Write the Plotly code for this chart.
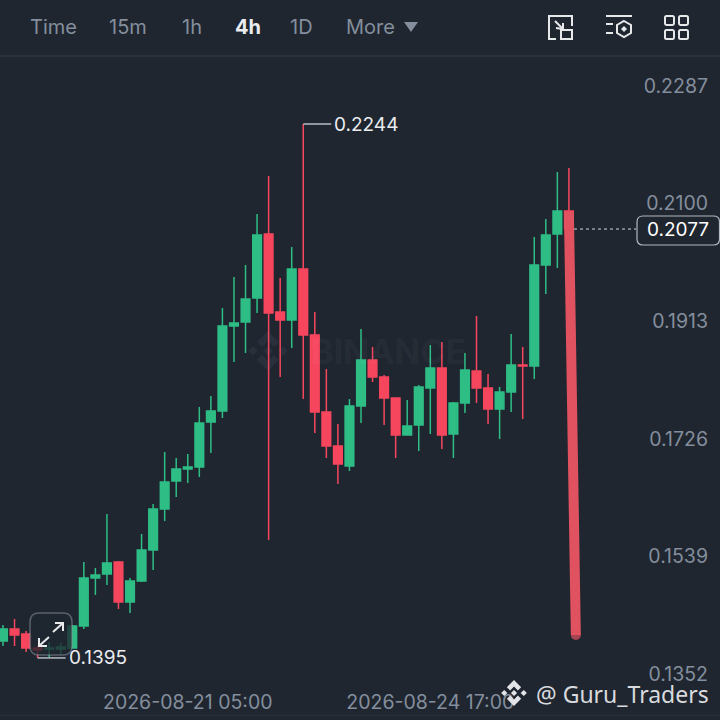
import pandas as pd
import plotly.graph_objects as go

# 4h candles
opens = [0.14219, 0.14410, 0.14331, 0.14108, 0.14092, 0.14092, 0.14108, 0.14458, 0.15221, 0.15285,
         0.15475, 0.14839, 0.15173, 0.15666, 0.16318, 0.16763, 0.16954, 0.16986, 0.17701, 0.17876,
         0.19228, 0.19292, 0.19673, 0.20691, 0.19451, 0.19324, 0.20134, 0.19085, 0.17861, 0.17320,
         0.17002, 0.17956, 0.18687, 0.18417, 0.18083, 0.17495, 0.17654, 0.18242, 0.18560, 0.17511,
         0.18004, 0.18513, 0.18242, 0.17908, 0.18179, 0.18608, 0.18592, 0.20198, 0.20691, 0.21057]
highs = [0.14474, 0.14569, 0.14378, 0.14156, 0.14203, 0.14187, 0.14474, 0.15475, 0.15380, 0.16239,
         0.15491, 0.15221, 0.15921, 0.16398, 0.17225, 0.17129, 0.17193, 0.17940, 0.18115, 0.19514,
         0.20007, 0.20198, 0.21009, 0.21613, 0.19991, 0.20484, 0.22440, 0.19451, 0.18544, 0.17670,
         0.18067, 0.19180, 0.18894, 0.18449, 0.18083, 0.18052, 0.18290, 0.18926, 0.18974, 0.18020,
         0.18799, 0.19387, 0.18465, 0.18258, 0.19101, 0.18894, 0.20643, 0.20930, 0.21677, 0.21741]
lows = [0.14140, 0.14140, 0.14044, 0.13950, 0.13965, 0.13997, 0.14108, 0.14410, 0.14951, 0.15110,
        0.14728, 0.14664, 0.15157, 0.15348, 0.16127, 0.16509, 0.16732, 0.16827, 0.17209, 0.17765,
        0.18656, 0.18799, 0.19435, 0.15825, 0.18417, 0.18878, 0.18067, 0.17527, 0.17129, 0.16716,
        0.16922, 0.17686, 0.18338, 0.17654, 0.17129, 0.17495, 0.17240, 0.17511, 0.17272, 0.17129,
        0.17845, 0.18004, 0.17670, 0.17431, 0.17861, 0.17749, 0.18385, 0.19737, 0.20150, 0.20770]
closes = [0.14410, 0.14315, 0.14108, 0.14076, 0.14108, 0.14124, 0.14458, 0.15221, 0.15269, 0.15460,
          0.14839, 0.15173, 0.15666, 0.16318, 0.16747, 0.16954, 0.16986, 0.17686, 0.17876, 0.19228,
          0.19276, 0.19658, 0.20675, 0.19435, 0.19324, 0.20134, 0.19085, 0.17861, 0.17320, 0.17034,
          0.17956, 0.18687, 0.18417, 0.18083, 0.17495, 0.17638, 0.18258, 0.18560, 0.17495, 0.18004,
          0.18528, 0.18242, 0.17908, 0.18179, 0.18608, 0.18592, 0.20198, 0.20675, 0.21057, 0.20770]
times = pd.date_range("2026-08-18 13:00", periods=len(opens), freq="4h")

y_ticks = [0.2287, 0.2100, 0.1913, 0.1726, 0.1539, 0.1352]
x_tick_times = ["2026-08-21 05:00", "2026-08-24 17:00"]
toolbar_labels = ["Time", "15m", "1h", "4h", "1D", "More"]

high_price = 0.2244
low_price = 0.1395
last_price = 0.2077

# the thick hand drawn stroke on top of the last candle
stroke_times = [times[-1], times[-1] + pd.Timedelta(hours=2.4)]
stroke_prices = [0.21041, 0.14315]

BG = "#1f2630"
GREEN = "#2ebd85"
RED = "#f6465d"
GREY = "#848e9c"
FONT = "Inter"


def px(x):
    return x / 720


def py(y):
    return 1 - y / 720


def poly(points, closed=True):
    path = "M " + " L ".join(f"{px(x):.5f},{py(y):.5f}" for x, y in points)
    return path + (" Z" if closed else "")


def path_shape(points, closed=True, fill=None, line=None, width=1.5, layer="above"):
    return dict(type="path", xref="paper", yref="paper", path=poly(points, closed), layer=layer,
                fillcolor=fill if fill else "rgba(0,0,0,0)",
                line=dict(color=line if line else "rgba(0,0,0,0)", width=width))


def round_box(x0, y0, x1, y1, r, fill, line, width=1.5):
    s = (f"M {px(x0 + r):.5f},{py(y0):.5f} L {px(x1 - r):.5f},{py(y0):.5f} "
         f"Q {px(x1):.5f},{py(y0):.5f} {px(x1):.5f},{py(y0 + r):.5f} L {px(x1):.5f},{py(y1 - r):.5f} "
         f"Q {px(x1):.5f},{py(y1):.5f} {px(x1 - r):.5f},{py(y1):.5f} L {px(x0 + r):.5f},{py(y1):.5f} "
         f"Q {px(x0):.5f},{py(y1):.5f} {px(x0):.5f},{py(y1 - r):.5f} L {px(x0):.5f},{py(y0 + r):.5f} "
         f"Q {px(x0):.5f},{py(y0):.5f} {px(x0 + r):.5f},{py(y0):.5f} Z")
    return dict(type="path", xref="paper", yref="paper", path=s, fillcolor=fill,
                line=dict(color=line, width=width))


def diamond(cx, cy, r):
    return [(cx, cy - r), (cx + r, cy), (cx, cy + r), (cx - r, cy)]


def logo(cx, cy, r, color, layer="above"):
    out = []
    for dx in (-0.75, 0, 0.75):
        out.append(path_shape(diamond(cx + dx * r, cy, 0.24 * r), fill=color, layer=layer))
    for sign in (-1, 1):
        chevron = [(0, 1), (0.55, 0.45), (0.3, 0.2), (0, 0.5), (-0.3, 0.2), (-0.55, 0.45)]
        out.append(path_shape([(cx + a * r, cy + sign * b * r) for a, b in chevron], fill=color, layer=layer))
    return out


fig = go.Figure()
fig.add_trace(go.Candlestick(
    x=times, open=opens, high=highs, low=lows, close=closes,
    increasing=dict(line=dict(color=GREEN, width=1.5), fillcolor=GREEN),
    decreasing=dict(line=dict(color=RED, width=1.5), fillcolor=RED),
    whiskerwidth=0, showlegend=False, hoverinfo="skip",
))
fig.add_trace(go.Scatter(
    x=stroke_times, y=stroke_prices, mode="lines+markers",
    line=dict(color="#e0525f", width=10),
    marker=dict(color="#e0525f", size=[1, 10], line=dict(width=0)),
    showlegend=False, hoverinfo="skip",
))

shapes = []
# toolbar
shapes.append(dict(type="line", xref="paper", yref="paper", x0=0, x1=1, y0=py(56), y1=py(56),
                   line=dict(color="#2a313c", width=2)))
shapes.append(dict(type="line", xref="paper", yref="paper", x0=0, x1=1, y0=py(715.5), y1=py(715.5),
                   line=dict(color="#2a313c", width=1)))
shapes.append(path_shape([(404, 22), (418, 22), (411, 32)], fill=GREY))
ICON = "#e6e8ea"
shapes.append(path_shape([(572, 26), (572, 16), (549, 16), (549, 39), (556, 39)], closed=False, line=ICON, width=2))
shapes.append(path_shape([(561, 30), (572, 30), (572, 39), (561, 39)], line=ICON, width=2))
shapes.append(path_shape([(555, 21), (563, 29)], closed=False, line=ICON, width=2))
shapes.append(path_shape([(556, 28), (563, 29), (563, 23)], closed=False, line=ICON, width=2))
shapes.append(path_shape([(606, 16), (632, 16)], closed=False, line=ICON, width=2))
shapes.append(path_shape([(606, 24), (613, 24)], closed=False, line=ICON, width=2))
shapes.append(path_shape([(606, 33), (613, 33)], closed=False, line=ICON, width=2))
shapes.append(path_shape([(624, 21), (631, 25), (631, 33), (624, 37), (617, 33), (617, 25)], line=ICON, width=2))
shapes.append(path_shape(diamond(624, 29, 3), fill=ICON))
for x0 in (665, 679):
    for y0 in (16, 30):
        shapes.append(round_box(x0, y0, x0 + 9, y0 + 9, 1.5, "rgba(0,0,0,0)", ICON, 2))

# watermark under the candles
shapes += logo(268, 351, 20, "#2a303b", layer="below")

# high / low leaders
shapes.append(dict(type="line", xref="x", yref="y", xsizemode="pixel", xanchor=times[26],
                   x0=0, x1=28, y0=high_price, y1=high_price, line=dict(color="#b9bdc3", width=1.5)))
shapes.append(dict(type="line", xref="x", yref="y", xsizemode="pixel", xanchor=times[3],
                   x0=0, x1=28, y0=low_price, y1=low_price, line=dict(color="#b9bdc3", width=1.5)))

# last price
shapes.append(dict(type="line", xref="paper", yref="y", x0=px(574), x1=px(636), y0=last_price, y1=last_price,
                   line=dict(color="#d5d8dc", width=1, dash="3px,3px")))
shapes.append(round_box(637, 216, 719.5, 245, 6, BG, "#b4b8be", 1.2))

# expand button over the first candles
shapes.append(round_box(30, 613, 72, 655, 9, "rgba(31,38,48,0.78)", "rgba(140,146,156,0.55)", 1.5))
WHITE = "#e8eaec"
shapes.append(path_shape([(53, 632), (63, 623)], closed=False, line=WHITE, width=2))
shapes.append(path_shape([(55, 623), (63, 623), (63, 631)], closed=False, line=WHITE, width=2))
shapes.append(path_shape([(49, 637), (39, 646)], closed=False, line=WHITE, width=2))
shapes.append(path_shape([(39, 638), (39, 646), (47, 646)], closed=False, line=WHITE, width=2))

# bottom right watermark
shapes += logo(514, 693, 13, "#e2e4e7")

annotations = []
toolbar_x = [28, 107, 180, 233, 288, 344]
for label, x in zip(toolbar_labels, toolbar_x):
    active = label == "4h"
    annotations.append(dict(
        text=f"<b>{label}</b>" if active else label, xref="paper", yref="paper", x=px(x), y=py(27),
        xanchor="left", yanchor="middle", showarrow=False,
        font=dict(family=FONT, size=20, color="#eaecef" if active else GREY),
    ))
annotations.append(dict(text="<b>BINANCE</b>", xref="paper", yref="paper", x=px(388), y=py(351), showarrow=False,
                        font=dict(family=FONT, size=34, color="rgba(255,255,255,0.04)")))
annotations.append(dict(text=f"{high_price:.4f}", xref="x", yref="y", x=times[26], y=high_price, xshift=29,
                        xanchor="left", yanchor="middle", showarrow=False,
                        font=dict(family=FONT, size=19, color="#eaecef")))
annotations.append(dict(text=f"{low_price:.4f}", xref="x", yref="y", x=times[3], y=low_price, xshift=29,
                        xanchor="left", yanchor="middle", showarrow=False,
                        font=dict(family=FONT, size=19, color="#eaecef")))
annotations.append(dict(text=f"{last_price:.4f}", xref="paper", yref="y", x=px(678), y=last_price,
                        xanchor="center", yanchor="middle", showarrow=False,
                        font=dict(family=FONT, size=19, color="#ffffff")))
annotations.append(dict(text="@ Guru_Traders", xref="paper", yref="paper", x=px(711), y=py(694),
                        xanchor="right", yanchor="middle", showarrow=False,
                        font=dict(family="Noto Sans", size=23, color="#d8dade")))

fig.update_layout(
    width=720, height=720, margin=dict(l=0, r=0, t=0, b=0, pad=0), autosize=False,
    paper_bgcolor=BG, plot_bgcolor=BG, boxgap=0.25, boxgroupgap=0,
    shapes=shapes, annotations=annotations, showlegend=False,
    xaxis=dict(
        type="date", range=["2026-08-18 11:58", "2026-08-28 21:20"], rangeslider=dict(visible=False),
        tickmode="array", tickvals=x_tick_times, ticktext=x_tick_times, ticks="",
        ticklabelposition="inside", ticklabelstandoff=4, showgrid=False, zeroline=False, showline=False,
        tickfont=dict(family=FONT, size=19.5, color=GREY),
    ),
    yaxis=dict(
        side="right", range=[0.12963, 0.24412], tickmode="array", tickvals=y_ticks,
        ticktext=[f"{v:.4f}" for v in y_ticks], ticks="", ticklabelposition="inside",
        ticklabelshift=-11, ticklabelstandoff=9, showgrid=False, zeroline=False, showline=False,
        tickfont=dict(family=FONT, size=19.5, color=GREY),
    ),
)

# page body has a default margin that would push the 720px figure off the window
fig.write_html("out.html", config=dict(displayModeBar=False),
               post_script="document.body.style.margin='0';document.body.style.background='#1f2630';")
